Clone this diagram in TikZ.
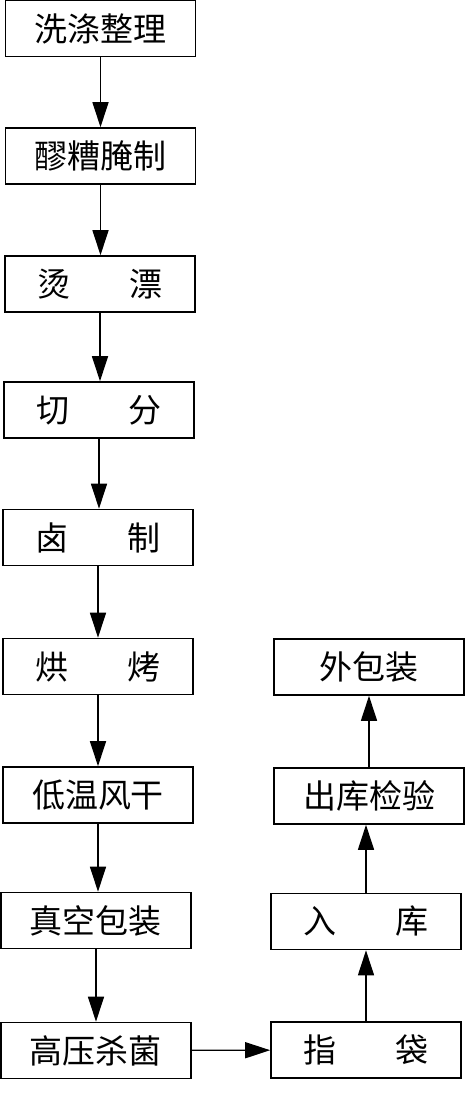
\documentclass[tikz,border=0pt]{standalone}
\usepackage{fontspec}
\newfontfamily\cjk{Noto Sans CJK SC}
\usetikzlibrary{arrows.meta}
\begin{document}
\begin{tikzpicture}[x=1pt,y=-1pt,
  procbox/.style={draw, line width=1.6pt, minimum width=190pt, minimum height=56pt,
    inner sep=0pt, font=\cjk\fontsize{33}{36}\selectfont},
  flow/.style={line width=1.3pt, -{Triangle[length=25pt,width=16pt]}}]
\useasboundingbox (0,0) rectangle (474,1096);
\node[procbox] (a1) at (100.5,28.5) {洗涤整理};
\node[procbox] (a2) at (100.5,156) {醪糟腌制};
\node[procbox] (a3) at (100,284) {烫\hspace{1.8em}漂};
\node[procbox] (a4) at (99,410) {切\hspace{1.8em}分};
\node[procbox] (a5) at (98,537.5) {卤\hspace{1.8em}制};
\node[procbox] (a6) at (98,666.5) {烘\hspace{1.8em}烤};
\node[procbox] (a7) at (98,795) {低温风干};
\node[procbox] (a8) at (96,920.5) {真空包装};
\node[procbox] (a9) at (96,1050.5) {高压杀菌};
\node[procbox] (b1) at (366,1050) {指\hspace{1.8em}袋};
\node[procbox] (b2) at (366,921.5) {入\hspace{1.8em}库};
\node[procbox] (b3) at (369,796) {出库检验};
\node[procbox] (b4) at (369,667) {外包装};
\draw[flow] (a1) -- (a1 |- a2.north);
\draw[flow] (a2) -- (a2 |- a3.north);
\draw[flow] (a3) -- (a3 |- a4.north);
\draw[flow] (a4) -- (a4 |- a5.north);
\draw[flow] (a5) -- (a5 |- a6.north);
\draw[flow] (a6) -- (a6 |- a7.north);
\draw[flow] (a7) -- (a7 |- a8.north);
\draw[flow] (a8) -- (a8 |- a9.north);
\draw[flow] (a9) -- (b1);
\draw[flow] (b1) -- (b1 |- b2.south);
\draw[flow] (b2) -- (b2 |- b3.south);
\draw[flow] (b3) -- (b3 |- b4.south);
\end{tikzpicture}
\end{document}
